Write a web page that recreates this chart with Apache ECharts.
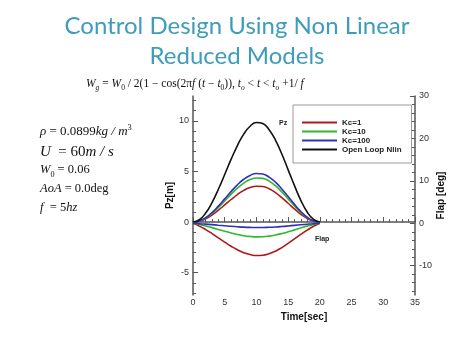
<!DOCTYPE html>
<html>
<head>
<meta charset="utf-8">
<script src="https://cdn.jsdelivr.net/npm/echarts@6/dist/echarts.min.js"></script>
<style>html,body{margin:0;padding:0;background:#fff}#c{width:474px;height:355px}</style>
</head>
<body>
<div id="c"></div>
<script>
// time samples [sec]
const time = [0,1,2,3,4,5,6,7,8,9,10,11,12,13,14,15,16,17,18,19,20];
// Pz [m] (left axis)
const pzKc1   = [0,0.08,0.32,0.69,1.17,1.69,2.23,2.72,3.13,3.41,3.54,3.51,3.29,2.91,2.42,1.86,1.30,0.77,0.36,0.09,0];
const pzKc10  = [0,0.10,0.39,0.85,1.44,2.08,2.74,3.35,3.85,4.20,4.36,4.32,4.05,3.59,2.98,2.29,1.60,0.95,0.44,0.11,0];
const pzKc100 = [0,0.11,0.43,0.94,1.58,2.29,3.01,3.68,4.23,4.61,4.79,4.74,4.44,3.94,3.27,2.52,1.75,1.05,0.48,0.12,0];
const pzOpen  = [0,0.23,0.89,1.92,3.24,4.70,6.19,7.56,8.69,9.46,9.83,9.73,9.12,8.09,6.72,5.16,3.60,2.15,0.99,0.26,0];
// Flap [deg] (right axis)
const flapKc1   = [0,-0.67,-1.48,-2.42,-3.43,-4.44,-5.40,-6.25,-6.92,-7.37,-7.59,-7.53,-7.17,-6.57,-5.73,-4.74,-3.68,-2.61,-1.60,-0.71,0];
const flapKc10  = [0,-0.28,-0.62,-1.02,-1.44,-1.87,-2.28,-2.63,-2.92,-3.10,-3.20,-3.17,-3.02,-2.76,-2.41,-2.00,-1.55,-1.10,-0.67,-0.30,0];
const flapKc100 = [0,-0.09,-0.20,-0.32,-0.45,-0.58,-0.71,-0.82,-0.91,-0.97,-1.00,-0.99,-0.94,-0.86,-0.75,-0.62,-0.48,-0.34,-0.21,-0.09,0];
// legend names
const names = ['Kc=1','Kc=10','Kc=100','Open Loop Nlin'];
// tick values
const leftMajor  = [-5,0,5,10];
const leftMinor  = [-7,-6,-5,-4,-3,-2,-1,0,1,2,3,4,5,6,7,8,9,10,11,12];
const rightMajor = [-10,0,10,20,30];
const rightMinor = [-16,-14,-12,-10,-8,-6,-4,-2,0,2,4,6,8,10,12,14,16,18,20,22,24,26,28,30];

const colors = ['#b01818','#30b830','#3030b8','#111111'];
const LMIN = -7.2, LMAX = 12.45, RMIN = -16.9, RMAX = 30;
const axisFont = {fontFamily:'Liberation Sans', fontSize:9, color:'#333'};
const lineCol = '#555';

function pairs(ys){ return time.map((t,i)=>[t, ys[i]]); }
function ser(name, ys, color, yIdx){
  return {name, type:'line', data:pairs(ys), xAxisIndex:0, yAxisIndex:yIdx, smooth:true,
    symbol:'none', lineStyle:{color, width:1.6}, itemStyle:{color}};
}

const chart = echarts.init(document.getElementById('c'));
const serif = 'Liberation Serif';
const R = (fs) => ({
  n:{fontFamily:serif, fontSize:fs, fill:'#111', lineHeight:fs+4},
  i:{fontFamily:serif, fontSize:fs, fontStyle:'italic', fill:'#111', lineHeight:fs+4},
  sub:{fontFamily:serif, fontSize:fs*0.65, fill:'#111', lineHeight:fs*0.65, padding:[fs*0.7,0,0,0]},
  subi:{fontFamily:serif, fontSize:fs*0.65, fontStyle:'italic', fill:'#111', lineHeight:fs*0.65, padding:[fs*0.7,0,0,0]},
  sup:{fontFamily:serif, fontSize:fs*0.65, fill:'#111', lineHeight:fs*0.65, padding:[0,0,fs*0.7,0]}
});
function rtext(x, y, fs, txt){
  return {type:'text', x, y, style:{text:txt, rich:R(fs), textVerticalAlign:'middle', fill:'#111', fontFamily:serif, fontSize:fs}};
}

chart.setOption({
  animation:false,
  title:{text:'Control Design Using Non Linear\nReduced Models', left:'center', top:6,
    textStyle:{fontFamily:'Lato', fontSize:24, fontWeight:'normal', color:'#3e9cbd', lineHeight:30}},
  legend:{data:names, orient:'vertical', left:293, top:105, icon:'rect', itemWidth:35, itemHeight:2,
    itemGap:0, padding:[13,10,9,9], borderColor:'#999', borderWidth:1, backgroundColor:'#fff',
    textStyle:{fontFamily:'Liberation Sans', fontWeight:'bold', fontSize:8, color:'#222', lineHeight:9}},
  grid:{left:193, right:59, top:96, bottom:60, containLabel:false},
  xAxis:[{type:'value', min:0, max:35, interval:5, name:'Time[sec]', nameLocation:'middle', nameGap:16,
    nameTextStyle:{fontFamily:'Liberation Sans', fontWeight:'bold', fontSize:10, color:'#111'},
    axisLine:{lineStyle:{color:lineCol, width:1.5}},
    axisTick:{inside:true, length:5, lineStyle:{color:lineCol}},
    minorTick:{show:true, splitNumber:5, length:3, lineStyle:{color:lineCol}},
    axisLabel:Object.assign({margin:3}, axisFont), splitLine:{show:false}}],
  yAxis:[
    {type:'value', position:'left', min:LMIN, max:LMAX, name:'Pz[m]', nameLocation:'middle', nameGap:17,
      nameTextStyle:{fontFamily:'Liberation Sans', fontWeight:'bold', fontSize:10, color:'#111'},
      axisLine:{show:true, lineStyle:{color:lineCol, width:1.5}},
      axisTick:{show:true, inside:true, length:5, customValues:leftMajor, lineStyle:{color:lineCol}},
      axisLabel:Object.assign({margin:4, customValues:leftMajor}, axisFont), splitLine:{show:false}},
    {type:'value', position:'left', min:LMIN, max:LMAX,
      axisLine:{show:false}, axisLabel:{show:false}, splitLine:{show:false},
      axisTick:{show:true, inside:true, length:3, customValues:leftMinor, lineStyle:{color:lineCol}}},
    {type:'value', position:'right', min:RMIN, max:RMAX, name:'Flap [deg]', nameLocation:'middle', nameGap:18,
      nameTextStyle:{fontFamily:'Liberation Sans', fontWeight:'bold', fontSize:10, color:'#111'},
      axisLine:{show:true, lineStyle:{color:lineCol, width:1.5}},
      axisTick:{show:true, inside:true, length:5, customValues:rightMajor, lineStyle:{color:lineCol}},
      axisLabel:Object.assign({margin:4, customValues:rightMajor}, axisFont), splitLine:{show:false}},
    {type:'value', position:'right', min:RMIN, max:RMAX,
      axisLine:{show:false}, axisLabel:{show:false}, splitLine:{show:false},
      axisTick:{show:true, inside:true, length:3, customValues:rightMinor, lineStyle:{color:lineCol}}}
  ],
  series:[
    ser(names[0], pzKc1, colors[0], 0),
    ser(names[1], pzKc10, colors[1], 0),
    ser(names[2], pzKc100, colors[2], 0),
    ser(names[3], pzOpen, colors[3], 0),
    ser(names[0], flapKc1, colors[0], 2),
    ser(names[1], flapKc10, colors[1], 2),
    ser(names[2], flapKc100, colors[2], 2)
  ],
  graphic:[
    rtext(86, 84, 11.5, '{i|W}{subi|g}{n| = }{i|W}{sub|0}{n| / 2(1 − cos(2π}{i|f}{n| (}{i|t}{n| − }{i|t}{sub|0}{n|)), }{i|t}{subi|o}{n| < }{i|t}{n| < }{i|t}{subi|o}{n| +1/ }{i|f}'),
    rtext(40, 132, 13, '{i|ρ}{n| = 0.0899}{i|kg / m}{sup|3}'),
    rtext(40, 152, 15, '{i|U}{n|  = 60}{i|m / s}'),
    rtext(40, 170, 12.5, '{i|W}{sub|0}{n| = 0.06}'),
    rtext(40, 189, 12.5, '{i|AoA}{n| = 0.0deg}'),
    rtext(40, 208, 12.5, '{i|f}{n|  = 5}{i|hz}'),
    {type:'text', x:279, y:123, style:{text:'Pz', fontFamily:'Liberation Sans', fontWeight:'bold', fontSize:7, fill:'#222', textVerticalAlign:'middle'}},
    {type:'text', x:315, y:239, style:{text:'Flap', fontFamily:'Liberation Sans', fontWeight:'bold', fontSize:7, fill:'#222', textVerticalAlign:'middle'}}
  ]
});
</script>
</body>
</html>
